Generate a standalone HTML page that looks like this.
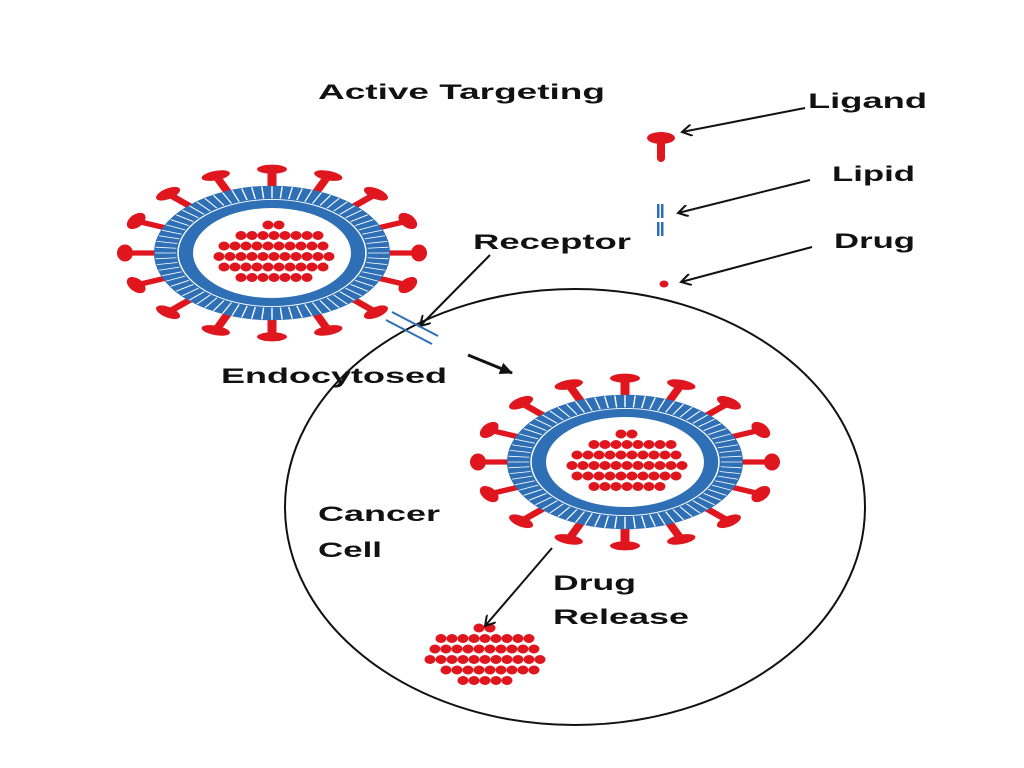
<!DOCTYPE html>
<html><head><meta charset="utf-8"><style>
body{margin:0;background:#fff}
svg{display:block}
text{font-family:"Liberation Sans",sans-serif;font-weight:bold;fill:#111}
</style></head><body>
<svg id="s" width="1024" height="768" viewBox="0 0 1024 768" xmlns="http://www.w3.org/2000/svg">
<defs>
<marker id="ah" markerWidth="12" markerHeight="12" refX="10" refY="6" orient="auto" markerUnits="userSpaceOnUse">
<path d="M0,0 L10,6 L0,12" fill="none" stroke="#111" stroke-width="2"/></marker>
<marker id="ah2" markerWidth="14" markerHeight="14" refX="12" refY="7" orient="auto" markerUnits="userSpaceOnUse">
<path d="M0,1 L13,7 L0,13 Z" fill="#111"/></marker>
</defs>
<ellipse cx="575" cy="507" rx="290" ry="218" fill="none" stroke="#111" stroke-width="2"/>
<g id="g"></g>
<g font-size="21" lengthAdjust="spacingAndGlyphs">
<text x="318" y="99" textLength="287" lengthAdjust="spacingAndGlyphs">Active Targeting</text>
<text x="808" y="108" textLength="119" lengthAdjust="spacingAndGlyphs">Ligand</text>
<text x="832" y="181" textLength="83" lengthAdjust="spacingAndGlyphs">Lipid</text>
<text x="834" y="248" textLength="81" lengthAdjust="spacingAndGlyphs">Drug</text>
<text x="473" y="249" textLength="158" lengthAdjust="spacingAndGlyphs">Receptor</text>
<text x="221" y="383" textLength="226" lengthAdjust="spacingAndGlyphs">Endocytosed</text>
<text x="318" y="521" textLength="122" lengthAdjust="spacingAndGlyphs">Cancer</text>
<text x="318" y="557" textLength="64" lengthAdjust="spacingAndGlyphs">Cell</text>
<text x="553" y="590" textLength="83" lengthAdjust="spacingAndGlyphs">Drug</text>
<text x="553" y="624" textLength="136" lengthAdjust="spacingAndGlyphs">Release</text>
</g>
<line x1="805" y1="108" x2="682" y2="132" stroke="#111" stroke-width="2" marker-end="url(#ah)"/>
<line x1="810" y1="180" x2="678" y2="213" stroke="#111" stroke-width="2" marker-end="url(#ah)"/>
<line x1="812" y1="247" x2="681" y2="282" stroke="#111" stroke-width="2" marker-end="url(#ah)"/>
<line x1="490" y1="255" x2="420" y2="326" stroke="#111" stroke-width="2" marker-end="url(#ah)"/>
<line x1="468" y1="355" x2="512" y2="373" stroke="#111" stroke-width="3" marker-end="url(#ah2)"/>
<line x1="552" y1="548" x2="485" y2="626" stroke="#111" stroke-width="2" marker-end="url(#ah)"/>
<path d="M392,312 L438,336 M386,320 L432,344" stroke="#2e6fb5" stroke-width="2" fill="none"/>
<ellipse cx="661" cy="138" rx="14" ry="6" fill="#e0161f"/>
<rect x="657" y="138" width="8" height="24" rx="4" fill="#e0161f"/>
<rect x="657" y="204" width="2.5" height="14" fill="#2e6fb5"/><rect x="661" y="204" width="2.5" height="14" fill="#2e6fb5"/>
<rect x="657" y="222" width="2.5" height="14" fill="#2e6fb5"/><rect x="661" y="222" width="2.5" height="14" fill="#2e6fb5"/>
<ellipse cx="664" cy="284" rx="4.5" ry="3.5" fill="#e0161f"/>
</svg>
<script>
var g=document.getElementById('g'),h='';
function lipo(cx,cy){
 var s='<g transform="translate('+cx+' '+cy+') scale(1 0.57)">';
 for(var i=0;i<16;i++){var a=i/16*Math.PI*2+Math.PI/2;var c=Math.cos(a),sn=Math.sin(a);
  var d=a*180/Math.PI;
  s+='<line x1="'+c*100+'" y1="'+sn*100+'" x2="'+c*145+'" y2="'+sn*145+'" stroke="#e0161f" stroke-width="9"/>';
  s+='<ellipse cx="'+c*147+'" cy="'+sn*147+'" rx="8" ry="15" fill="#e0161f" transform="rotate('+d+' '+c*147+' '+sn*147+')"/>';}
 s+='<circle r="106" fill="none" stroke="#2e6fb5" stroke-width="24"/>';
 for(var i=0;i<72;i++){var a=i/72*Math.PI*2;s+='<line x1="'+Math.cos(a)*96+'" y1="'+Math.sin(a)*96+'" x2="'+Math.cos(a)*117+'" y2="'+Math.sin(a)*117+'" stroke="#fff" stroke-width="1.4"/>';}
 s+='<circle r="95" fill="#2e6fb5"/>';
 s+='<circle r="94" fill="none" stroke="#fff" stroke-width="1.5"/>';
 s+='<circle r="79" fill="#fff"/></g>';
 s+=cluster(cx+3,cy+1,56,29);
 return s;}
function cluster(cx,cy,rx,ry){var s='';
 for(var y=-ry;y<=ry;y+=10.5)for(var x=-rx;x<=rx;x+=11){var xx=x+((Math.round(y/10.5)%2)?5:0);
  if((xx*xx)/(rx*rx)+(y*y)/(ry*ry)<=1.05)s+='<ellipse cx="'+(cx+xx)+'" cy="'+(cy+y)+'" rx="5.5" ry="4.5" fill="#e0161f"/>';}
 return s;}
h+=lipo(272,253);h+=lipo(625,462);h+=cluster(485,656,55,28);
g.innerHTML=h;
</script>
</body></html>
